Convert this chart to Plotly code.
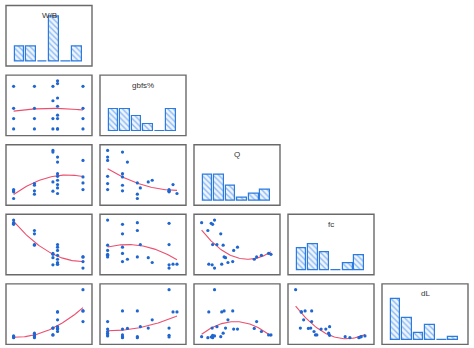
import numpy as np
import plotly.graph_objects as go

names = ["W/B", "gbfs%", "Q", "fc", "dL"]

wb = [0.30, 0.30, 0.30, 0.30,
      0.345, 0.345, 0.345, 0.345,
      0.385, 0.385, 0.385, 0.385,
      0.395, 0.395, 0.395, 0.395, 0.395, 0.395, 0.395, 0.395,
      0.45, 0.45, 0.45, 0.45]
gbfs = [0, 15, 30, 62,
        0, 15, 30, 62,
        0, 15, 41, 62,
        0, 15, 20, 33, 45, 0, 66, 70,
        0, 15, 30, 62]
q = [1175, 1075, 500, 1000,
     1625, 1500, 825, 1075,
     4125, 4000, 1750, 1050,
     3625, 2375, 3250, 1300, 1875, 2175, 1550, 875,
     3375, 2125, 1675, 1175]
fc = [66.75, 63.5, 64.75, 64.25,
      47.5, 56.25, 58.75, 48.0,
      40.5, 41.25, 38.0, 32.5,
      39.75, 46.0, 36.75, 48.0, 34.25, 43.5, 33.0, 33.0,
      38.5, 35.0, 38.5, 30.0]
dl = [220, 200, 212, 208,
      252, 212, 200, 228,
      232, 232, 312, 312,
      272, 300, 308, 328, 408, 300, 500, 500,
      388, 512, 512, 760]

data = [np.array(v, dtype=float) for v in (wb, gbfs, q, fc, dl)]
n = len(names)
W, H = 474, 348

DOT = "#1f66d1"
BAR = "#2b7be0"
RED = "#ec4f6e"

fig = go.Figure()
layout = {}
shapes = []
annotations = []

def xrange_of(v):
    lo, hi = v.min(), v.max()
    s = hi - lo
    return [lo - 0.11 * s, hi + 0.13 * s]

def yrange_of(v):
    lo, hi = v.min(), v.max()
    s = hi - lo
    return [lo - 0.14 * s, hi + 0.12 * s]

k = 0
for i in range(n):          # row
    top = 5.5 + 69.6 * i
    bot = top + 60.5
    for j in range(i + 1):  # col
        k += 1
        x0 = 6 + 94 * j
        x1 = x0 + 86
        xa = "x" if k == 1 else f"x{k}"
        ya = "y" if k == 1 else f"y{k}"
        xkey = "xaxis" if k == 1 else f"xaxis{k}"
        ykey = "yaxis" if k == 1 else f"yaxis{k}"
        xd = data[j]
        yd = data[i]
        layout[xkey] = dict(domain=[x0 / W, x1 / W], anchor=ya, range=xrange_of(xd),
                            showticklabels=False, showgrid=False, zeroline=False,
                            showline=False, ticks="")
        if i == j:
            counts, edges = np.histogram(xd, bins=6, range=(xd.min(), xd.max()))
            centers = (edges[:-1] + edges[1:]) / 2
            bw = edges[1] - edges[0]
            fig.add_trace(go.Bar(
                x=centers, y=counts, width=bw * 0.84, xaxis=xa, yaxis=ya,
                marker=dict(color="rgba(255,255,255,0)",
                            line=dict(color=BAR, width=1.2),
                            pattern=dict(shape="\\", fgcolor=BAR, bgcolor="#eef5ff",
                                         size=4, solidity=0.35)),
                showlegend=False, hoverinfo="skip"))
            layout[ykey] = dict(domain=[1 - bot / H, 1 - top / H], anchor=xa,
                                range=[-1.1, 15], showticklabels=False, showgrid=False,
                                zeroline=False, showline=False, ticks="")
            annotations.append(dict(x=(x0 + x1) / 2 / W, y=1 - (top + 10) / H,
                                    xref="paper", yref="paper", text=names[i],
                                    showarrow=False, xanchor="center", yanchor="middle",
                                    font=dict(size=8, color="#333333",
                                              family="Liberation Sans, Arial, sans-serif")))
        else:
            coef = np.polyfit(xd, yd, 2)
            xs = np.linspace(xd.min(), xd.max(), 60)
            ys = np.polyval(coef, xs)
            fig.add_trace(go.Scatter(x=xs, y=ys, mode="lines", xaxis=xa, yaxis=ya,
                                     line=dict(color=RED, width=1.1),
                                     showlegend=False, hoverinfo="skip"))
            fig.add_trace(go.Scatter(x=xd, y=yd, mode="markers", xaxis=xa, yaxis=ya,
                                     marker=dict(color=DOT, size=3.2),
                                     showlegend=False, hoverinfo="skip"))
            layout[ykey] = dict(domain=[1 - bot / H, 1 - top / H], anchor=xa,
                                range=yrange_of(yd), showticklabels=False, showgrid=False,
                                zeroline=False, showline=False, ticks="")
        shapes.append(dict(type="rect", xref="paper", yref="paper",
                           x0=x0 / W, x1=x1 / W, y0=1 - bot / H, y1=1 - top / H,
                           line=dict(color="#6a6a6a", width=1.4), layer="above"))

fig.update_layout(**layout)
fig.update_layout(width=W, height=H, margin=dict(l=0, r=0, t=0, b=0),
                  paper_bgcolor="white", plot_bgcolor="white",
                  shapes=shapes, annotations=annotations, showlegend=False,
                  bargap=0)
fig.write_html("out.html", config={"displayModeBar": False})
